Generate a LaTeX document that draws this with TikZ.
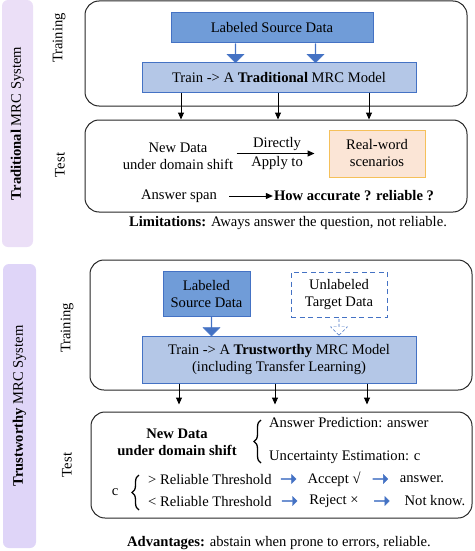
\documentclass[tikz,border=0pt]{standalone}
\usepackage{fontspec}
\setmainfont{Liberation Serif}
\usetikzlibrary{shapes.arrows,calc,arrows.meta,decorations.pathreplacing}
\definecolor{azulborde}{HTML}{4472C4}
\definecolor{azulfuerte}{HTML}{709CD8}
\definecolor{azulclaro}{HTML}{B4C7E7}
\definecolor{lila1}{HTML}{EBDFF7}
\definecolor{lila2}{HTML}{DFD5F8}
\definecolor{durazno}{HTML}{FBE5D6}
\definecolor{oro}{HTML}{F5C05A}
\begin{document}
\begin{tikzpicture}[x=1pt,y=-1pt,font=\fontsize{14.6}{17}\selectfont,
  caja/.style={draw=black!85,line width=1pt,rounded corners=14pt},
  barra/.style={rounded corners=6pt,rotate=90},
  datos/.style={draw=azulborde,fill=azulfuerte,line width=1pt,align=center},
  modelo/.style={draw=azulborde,fill=azulclaro,line width=1pt,align=center},
  flecha/.style={line width=1pt,-{Triangle[length=7pt,width=6pt]}},
  llave/.style={decorate,decoration={brace,amplitude=7pt},line width=1.3pt},
  bloque/.style={single arrow,draw=azulborde,fill=azulborde,inner sep=0pt,
    minimum width=17pt,single arrow head extend=3.5pt,shape border rotate=270},
  bloquito/.style={single arrow,draw=azulborde,fill=azulborde,inner sep=0pt,
    minimum width=9pt,single arrow head extend=2pt,minimum height=15pt}]
\useasboundingbox (0,0) rectangle (474,551);
% Barras laterales
\node[barra,fill=lila1,minimum width=247,minimum height=31] (sis1) at (17.5,123.5) {\textbf{Traditional} MRC System};
\node[barra,fill=lila2,minimum width=284,minimum height=33] (sis2) at (19.5,406) {\textbf{Trustworthy} MRC System};
\node[rotate=90] (ent1) at (59,38) {Training};
\node[rotate=90] (pru1) at (60,165) {Test};
\node[rotate=90] (ent2) at (67,328) {Training};
\node[rotate=90] (pru2) at (67,465) {Test};
% Sistema tradicional
\node[caja,minimum width=382,minimum height=105] (caja1) at (276,53.5) {};
\node[caja,minimum width=382,minimum height=92] (test1) at (276,166) {};
\node[datos,minimum width=202,minimum height=30] (src1) at (272,28) {Labeled Source Data};
\node[modelo,minimum width=274,minimum height=29] (train1) at (279,77.5) {Train -> A \textbf{Traditional} MRC Model};
\node[bloque,minimum height=19pt] (b1) at ($(src1.south)!0.5!(train1.north)+(-40,0)$) {};
\node[bloque,minimum height=19pt] (b2) at ($(src1.south)!0.5!(train1.north)+(40,0)$) {};
\foreach \d in {-98,-1,90}
  \draw[flecha] ($(train1.south)+(\d,0)$) coordinate (a) -- (a |- test1.north);
\node[align=center] (nd1) at (178,156) {New Data\\under domain shift};
\node[draw=oro,fill=durazno,line width=1pt,align=center,minimum width=96,minimum height=47] (rw) at (377,153.5) {Real-word\\scenarios};
\draw[flecha,shorten >=14pt] (nd1.east |- rw.west) -- (rw.west)
  node[pos=0.44,above=-1pt] {Directly} node[pos=0.44,below=-1pt] {Apply to};
\node (as1) at (179,196) {Answer span};
\node[inner sep=1pt] (how) at (354,196) {\textbf{How accurate ? reliable ?}};
\draw[flecha,shorten <=9pt] (as1.east) -- (how.west);
\node (lim) at (288,223) {\textbf{Limitations:} Aways answer the question, not reliable.};
% Sistema confiable
\node[caja,minimum width=382,minimum height=130] (caja2) at (281,325) {};
\node[caja,minimum width=381,minimum height=106] (test2) at (281.5,465) {};
\node[datos,minimum width=87,minimum height=45] (src2) at (206.5,294) {Labeled\\Source Data};
\node[draw=azulborde,line width=1pt,dash pattern=on 5pt off 3.5pt,align=center,minimum width=96,minimum height=45] (unl) at (339,294.5) {Unlabeled\\Target Data};
\node[modelo,minimum width=274,minimum height=47] (train2) at (279,359.5) {Train -> A \textbf{Trustworthy} MRC Model\\(including Transfer Learning)};
\node[bloque,minimum height=19pt] (b3) at ($(src2.south)!0.5!(src2.south |- train2.north)+(5,0)$) {};
\node[bloque,fill=white,dash pattern=on 3pt off 2pt,minimum height=17pt] (b4) at ($(unl.south)!0.5!(unl.south |- train2.north)$) {};
\foreach \d in {-100,-4,88}
  \draw[flecha,shorten >=7pt] ($(train2.south)+(\d,0)$) coordinate (a) -- (a |- test2.north);
\node[align=center,font=\fontsize{14.6}{17}\selectfont\bfseries] (nd2) at (177,442) {New Data\\under domain shift};
\draw[llave] (261,463) -- (261,420);
\node[anchor=west,inner sep=1pt] (ap) at (268,423) {Answer Prediction: answer};
\node[anchor=west,inner sep=1pt] (ue) at (268,457) {Uncertainty Estimation: c};
\node (cc) at (115,492) {c};
\draw[llave] (139,510) -- (139,475);
\node[anchor=west,inner sep=1pt] (gt) at (147,479) {> Reliable Threshold};
\node[anchor=west,inner sep=1pt] (lt) at (147,501) {< Reliable Threshold};
\node (acc) at (334,479) {Accept √};
\node (rej) at (334,501) {Reject ×};
\node (ans) at (422,479) {answer.};
\node (nk) at (435,501) {Not know.};
\node[bloquito] at ($(gt.east)!0.5!(acc.west)$) {};
\node[bloquito] at ($(lt.east)!0.5!(rej.west)$) {};
\node[bloquito] at ($(acc.east)!0.5!(ans.west)$) {};
\node[bloquito] at ($(rej.east)!0.5!(nk.west)$) {};
\node (adv) at (279,543) {\textbf{Advantages:} abstain when prone to errors, reliable.};
\end{tikzpicture}
\end{document}
